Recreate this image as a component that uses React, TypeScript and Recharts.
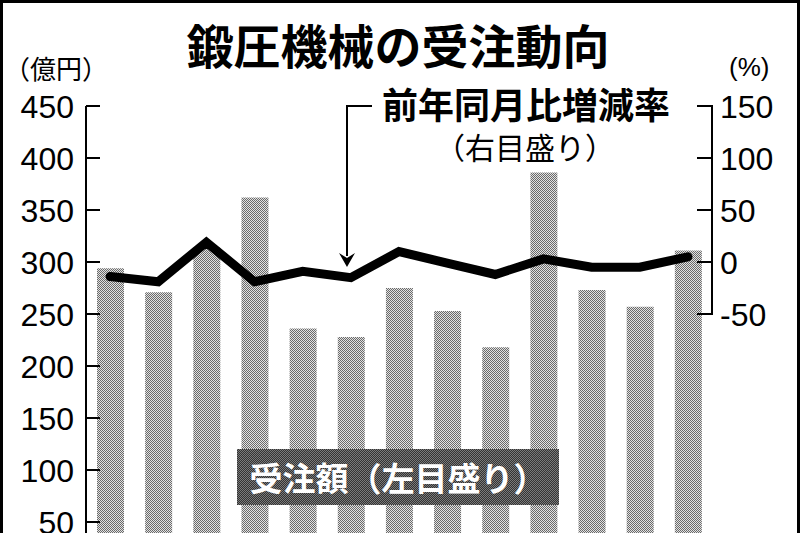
import { Bar, ComposedChart, Line, XAxis, YAxis } from "recharts"

const months = ["1月", "2月", "3月", "4月", "5月", "6月", "7月", "8月", "9月", "10月", "11月", "12月", "1月"]
// 受注額（億円）
const orders = [294, 271, 314, 362, 236, 228, 275, 253, 218, 386, 273, 257, 311]
// 前年同月比増減率（%）
const changeRate = [-14, -19, 19, -19, -9, -15, 10, -1, -12, 3, -5, -5, 5]
const leftTicks = [0, 50, 100, 150, 200, 250, 300, 350, 400, 450]
const rightTicks = [-50, 0, 50, 100, 150]

const CHART_W = 800
const CHART_H = 600
const MARGIN = { top: 106, right: 0, bottom: 26, left: 0 }
const PLOT_H = CHART_H - MARGIN.top - MARGIN.bottom
const LEFT_DOMAIN = [0, 450]
const RIGHT_DOMAIN = [-300, 150]
const RIGHT_STEP = PLOT_H * (rightTicks[1] - rightTicks[0]) / (RIGHT_DOMAIN[1] - RIGHT_DOMAIN[0])

const JP = '"Noto Sans CJK JP", sans-serif'
const NUM = '"Liberation Sans", Arial, sans-serif'

const data = months.map((m, i) => ({ month: m, orders: orders[i], rate: changeRate[i] }))

function LeftTick({ x, y, payload }: any) {
  return (
    <g>
      <line x1={x} x2={x + 14} y1={y} y2={y} stroke="#000" strokeWidth={2} />
      <text x={x - 12} y={y} dy="0.36em" textAnchor="end" fontSize={32} fontFamily={NUM} fill="#000">
        {payload.value}
      </text>
    </g>
  )
}

function RightTick({ x, y, payload }: any) {
  const top = payload.value >= rightTicks[rightTicks.length - 1]
  return (
    <g>
      <line x1={x - 15} x2={x} y1={y} y2={y} stroke="#000" strokeWidth={2} />
      {!top && (
        <line x1={x} x2={x} y1={y + 1} y2={y - RIGHT_STEP - 1} stroke="#000" strokeWidth={2} />
      )}
      <text x={x + 8} y={y} dy="0.36em" textAnchor="start" fontSize={32} fontFamily={NUM} fill="#000">
        {payload.value}
      </text>
    </g>
  )
}

export default function App() {
  return (
    <div
      style={{
        position: "absolute",
        left: 0,
        top: 0,
        width: 800,
        height: 533,
        overflow: "hidden",
        background: "#fff",
        fontFamily: JP,
      }}
    >
      <div
        style={{
          position: "absolute",
          left: 0,
          top: 0,
          width: 800,
          height: 620,
          boxSizing: "border-box",
          borderTop: "3px solid #000",
          borderLeft: "3px solid #000",
          borderRight: "3px solid #000",
        }}
      />
      <div style={{ position: "absolute", left: 0, top: 0 }}>
        <ComposedChart width={CHART_W} height={CHART_H} data={data} margin={MARGIN}>
          <defs>
            <pattern id="dotLight" width="2" height="2" patternUnits="userSpaceOnUse">
              <rect width="2" height="2" fill="#e2e2e2" />
              <rect width="1" height="1" fill="#6a6a6a" />
              <rect x="1" y="1" width="1" height="1" fill="#6a6a6a" />
            </pattern>
          </defs>
          <XAxis dataKey="month" hide padding={{ left: 0, right: 0 }} />
          <YAxis
            yAxisId="l"
            orientation="left"
            width={86}
            domain={LEFT_DOMAIN}
            ticks={leftTicks}
            interval={0}
            tickSize={0}
            tickMargin={0}
            tickLine={false}
            axisLine={{ stroke: "#000", strokeWidth: 2 }}
            tick={<LeftTick />}
          />
          <YAxis
            yAxisId="r"
            orientation="right"
            width={88}
            domain={RIGHT_DOMAIN}
            ticks={rightTicks}
            interval={0}
            tickSize={0}
            tickMargin={0}
            tickLine={false}
            axisLine={false}
            tick={<RightTick />}
          />
          <Bar yAxisId="l" dataKey="orders" barSize={27} fill="url(#dotLight)" isAnimationActive={false} />
          <Line
            yAxisId="r"
            dataKey="rate"
            type="linear"
            stroke="#000"
            strokeWidth={9}
            strokeLinecap="round"
            strokeLinejoin="miter"
            dot={false}
            activeDot={false}
            isAnimationActive={false}
          />
        </ComposedChart>
      </div>

      <svg
        width={800}
        height={533}
        style={{ position: "absolute", left: 0, top: 0, pointerEvents: "none" }}
      >
        <polyline points="372,106 347,106 347,256" fill="none" stroke="#000" strokeWidth={2} />
        <polygon points="339,253 347,258 355,253 347,267" fill="#000" />
      </svg>

      <div
        style={{
          position: "absolute",
          left: 398,
          top: 20,
          transform: "translateX(-50%)",
          fontSize: 47,
          lineHeight: 1,
          fontWeight: 700,
          whiteSpace: "nowrap",
        }}
      >
        鍛圧機械の受注動向
      </div>
      <div style={{ position: "absolute", left: 4, top: 55, fontSize: 26, lineHeight: 1, whiteSpace: "nowrap" }}>
        （億円）
      </div>
      <div
        style={{
          position: "absolute",
          left: 729,
          top: 54,
          fontSize: 26,
          lineHeight: 1,
          fontFamily: NUM,
          whiteSpace: "nowrap",
        }}
      >
        (%)
      </div>
      <div
        style={{
          position: "absolute",
          left: 526,
          top: 85,
          transform: "translateX(-50%)",
          fontSize: 36,
          lineHeight: 1,
          fontWeight: 700,
          whiteSpace: "nowrap",
        }}
      >
        前年同月比増減率
      </div>
      <div
        style={{
          position: "absolute",
          left: 525,
          top: 131,
          transform: "translateX(-50%)",
          fontSize: 30,
          lineHeight: 1,
          whiteSpace: "nowrap",
        }}
      >
        （右目盛り）
      </div>
      <div
        style={{
          position: "absolute",
          left: 237,
          top: 449,
          width: 322,
          height: 56,
          background: "repeating-conic-gradient(#333 0 25%, #7a7a7a 0 50%) 0 0 / 2px 2px",
          color: "#fff",
          fontSize: 33,
          fontWeight: 700,
          lineHeight: "56px",
          textAlign: "center",
          whiteSpace: "nowrap",
        }}
      >
        受注額（左目盛り）
      </div>
    </div>
  )
}
